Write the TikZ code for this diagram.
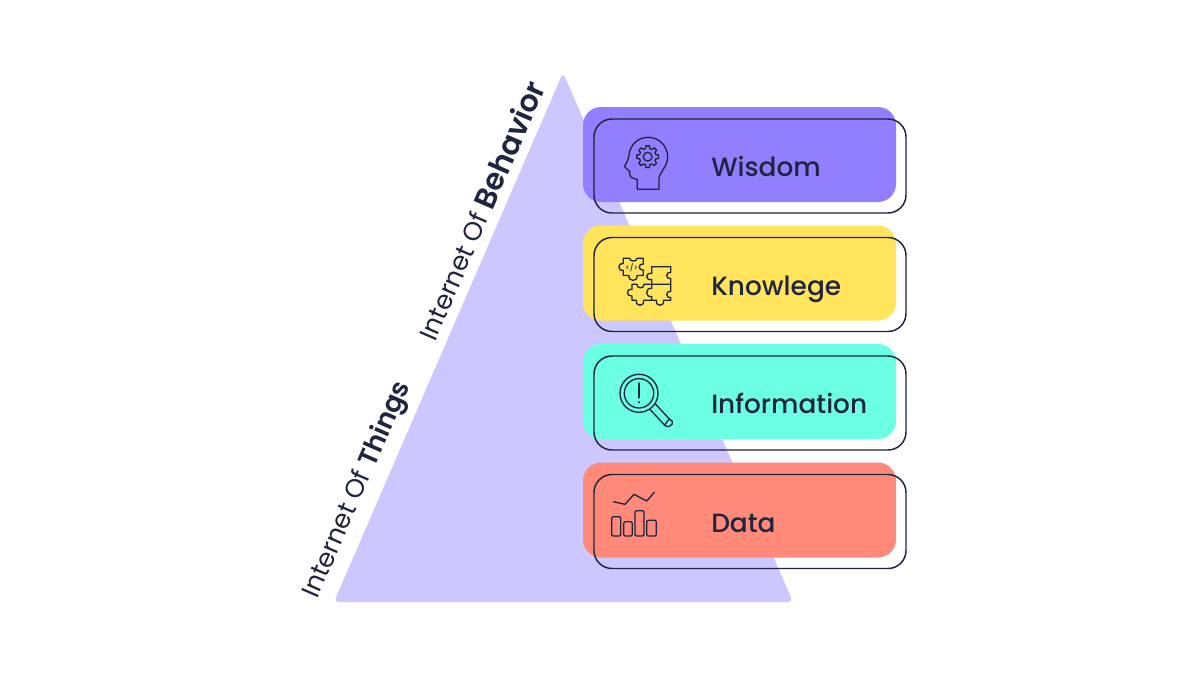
\documentclass[tikz,border=0pt]{standalone}
\usepackage{fontspec}
\setmainfont{Poppins}
\newfontfamily\pmed{Poppins Medium}
\newfontfamily\psemi{Poppins SemiBold}
\definecolor{ink}{HTML}{1F2440}
\definecolor{tri}{HTML}{CCC7FF}
\definecolor{cwis}{HTML}{917FFF}
\definecolor{ckno}{HTML}{FFE45C}
\definecolor{cinf}{HTML}{6BFFE4}
\definecolor{cdat}{HTML}{FF8A7A}
\tikzset{
 x=0.75pt,y=-0.75pt,
 band/.style={rounded corners=13.5,line width=0},
 frame/.style={draw=ink,line width=1.1pt,rounded corners=13.5},
 ic/.style={draw=ink,line width=1pt,line join=round,line cap=round},
 lab/.style={text=ink,font=\pmed\fontsize{19.8}{22}\selectfont,anchor=base west,inner sep=0},
 side/.style={text=ink,font=\fontsize{19.4}{22}\selectfont,rotate=66.5,anchor=center,inner sep=0},
}
\begin{document}
\begin{tikzpicture}
\useasboundingbox (0,0) rectangle (1200,678);
\fill[white] (0,0) rectangle (1200,678);
\fill[tri,rounded corners=3.5] (563,72.5) -- (793,602) -- (334,602) -- cycle;
\foreach \y/\c in {107/cwis,225.5/ckno,344/cinf,462.5/cdat}{
  \fill[\c,band] (583,\y) rectangle (896,\y+95);
}
\foreach \y/\n in {119/f1,237.5/f2,356/f3,474.5/f4}{
  \draw[frame] (594,\y) rectangle (906,\y+94);
}
\node[lab] (w) at (711,176.5) {Wisdom};
\node[lab] (k) at (711,295) {Knowlege};
\node[lab] (i) at (711,413.5) {Information};
\node[lab] (d) at (711,532) {Data};
\node[side] (t) at (357.5,490) {Internet Of {\psemi\fontsize{20}{22}\selectfont Things}};
\node[side] (b) at (480,210) {Internet Of {\psemi\fontsize{22.5}{24}\selectfont Behavior}};
% head
\draw[ic] (637.3,189.3) -- (637.3,179.5) -- (631,177.5) .. controls (629.5,176.5) and (630,173) .. (629.5,171) -- (628,170) -- (624.5,166.5) .. controls (627,162) and (629,158) .. (629,155) .. controls (630,145) and (638,137.3) .. (648,137.3) .. controls (660,137.3) and (667.7,147) .. (667.7,157) .. controls (667.7,166) and (660,172) .. (659,178) -- (659,189.3) -- cycle;
\draw[ic] (647.7,156.7) circle (4.4);
\draw[ic] ([shift={(647.7,156.7)}]-9:11)
  \foreach \a in {0,45,...,315}{
    -- ([shift={(647.7,156.7)}]\a-9:11) -- ([shift={(647.7,156.7)}]\a+9:11)
    -- ([shift={(647.7,156.7)}]\a+15:8.4) -- ([shift={(647.7,156.7)}]\a+30:8.4)
  } -- cycle;
% puzzle: code piece
\draw[ic] (623.3,258.3) -- (629.5,258.3) .. controls (630,262) and (637,262) .. (637,258.3) -- (643.3,258.3) -- (643.3,264) .. controls (638,263) and (638,271) .. (643.3,270) -- (643.3,275.5) -- (637,275.5) .. controls (638,282) and (628,282) .. (629,275.5) -- (623.3,275.5) -- (623.3,270.5) .. controls (617.5,272) and (617.5,262) .. (623.3,263.5) -- cycle;
\node[inner sep=0,text=ink,font=\pmed\fontsize{5.5}{6}\selectfont] (code) at (631.7,268) {</>};
% top right piece
\draw[ic] (651.7,284.3) -- (651.7,279.5) .. controls (645,281) and (645,272) .. (651.7,273.5) -- (651.7,266.7) -- (670.7,266.7) -- (670.7,272.5) .. controls (665.5,271) and (665.5,280) .. (670.7,278.5) -- (670.7,284.3) -- cycle;
% bottom right piece
\draw[ic] (651.7,284.3) -- (651.7,288.5) .. controls (645,287) and (645,298) .. (651.7,296.5) -- (651.7,300.2) -- (656.5,300.2) .. controls (655,307) and (665,307) .. (663.5,300.2) -- (670.7,300.2) -- (670.7,297.5) .. controls (665.5,299) and (665.5,290) .. (670.7,291.5) -- (670.7,284.3);
% bottom left piece
\draw[ic] (651.7,284.3) -- (644,284.3) .. controls (645,289) and (636,289) .. (637,284.3) -- (632,284.3) -- (632,289.5) .. controls (626,288) and (626,297) .. (632,296) -- (632,300.2) -- (636.5,300.2) .. controls (635,307) and (645,307) .. (643.5,300.2) -- (651.7,300.2);
% magnifier
\draw[ic] (639,393.3) circle (19);
\draw[ic] (639,393.3) circle (14.7);
\draw[ic] (639,383) -- (639,398);
\fill[ink] (639,402.3) circle (1.2);
\draw[ic] (650,409.5) -- (664.5,425) .. controls (667.5,428) and (671,426.5) .. (672.3,424) .. controls (673.3,422) and (672,420) .. (669.3,419) -- (655.5,404);
\draw[ic] (664.5,425) -- (669.3,419);
% chart
\draw[ic] (613.5,501.7) -- (625,504.3) -- (634,494.3) -- (646.7,501) -- (654.3,492.3);
\draw[ic,rounded corners=1] (611.7,516.7) rectangle (620.7,536);
\draw[ic,rounded corners=1] (623.7,521.7) rectangle (632.3,536);
\draw[ic,rounded corners=1] (635,510.7) rectangle (644,536);
\draw[ic,rounded corners=1] (646.7,520.3) rectangle (656.3,536);
\end{tikzpicture}
\end{document}
